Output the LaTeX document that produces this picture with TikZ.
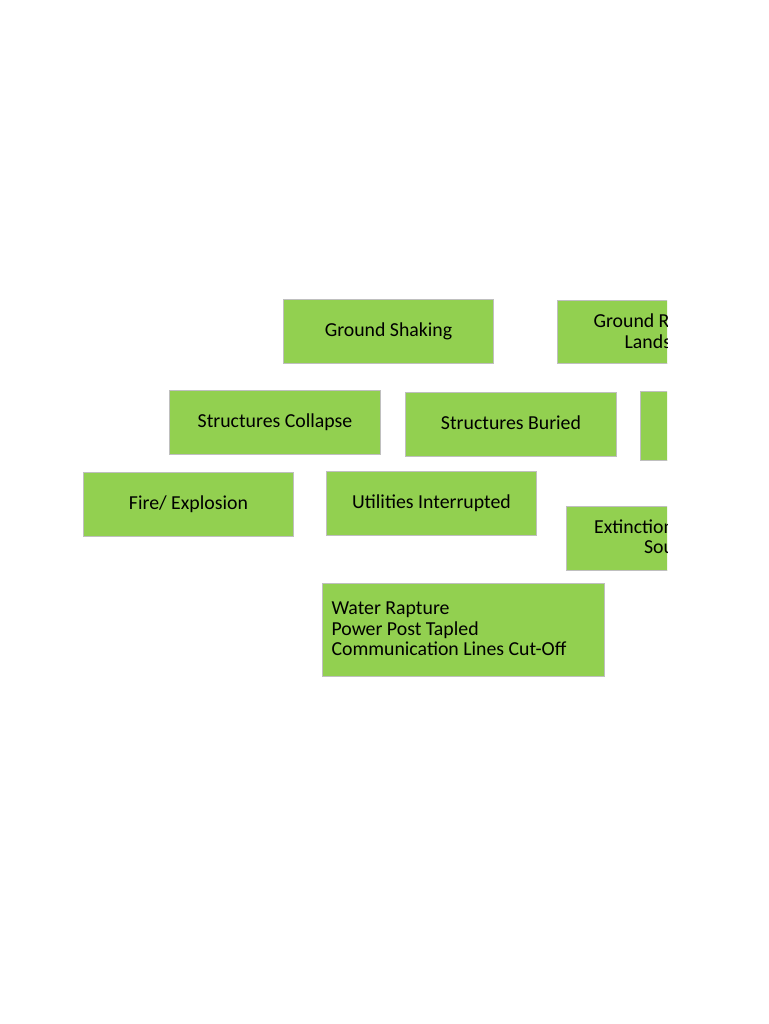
\documentclass[tikz,border=0pt]{standalone}
\usepackage{fontspec}
\setmainfont{Carlito}
\definecolor{boxgreen}{HTML}{92D050}
\definecolor{boxline}{HTML}{BFBFBF}
\begin{document}
\begin{tikzpicture}[x=1pt,y=-1pt,
  gbox/.style={draw=boxline, fill=boxgreen, line width=1pt, rectangle, inner sep=0pt, anchor=north west},
  txt/.style={font=\fontsize{19.8}{20.5}\selectfont, text=black, align=center}]
\useasboundingbox (0,0) rectangle (768,1024);
\begin{scope}
\clip (0,0) rectangle (667,1024);
\node[gbox, minimum width=210pt, minimum height=64pt] (gs) at (283,299) {};
\node[txt] (gst) at (gs.center) {Ground Shaking};
\node[gbox, minimum width=210pt, minimum height=63pt] (gr) at (557,300) {};
\node[txt] (grt) at ([yshift=1pt]gr.center) {Ground Rupture/\\Landslide};
\node[gbox, minimum width=211pt, minimum height=64pt] (sc) at (169,390) {};
\node[txt] (sct) at (sc.center) {Structures Collapse};
\node[gbox, minimum width=211pt, minimum height=64pt] (sb) at (405,392) {};
\node[txt] (sbt) at ([yshift=1.5pt]sb.center) {Structures Buried};
\node[gbox, minimum width=210pt, minimum height=69pt] (hid) at (640,391) {};
\node[gbox, minimum width=210pt, minimum height=64pt] (fe) at (83,472) {};
\node[txt] (fet) at (fe.center) {Fire/ Explosion};
\node[gbox, minimum width=210pt, minimum height=64pt] (ui) at (326,471) {};
\node[txt] (uit) at (ui.center) {Utilities Interrupted};
\node[gbox, minimum width=210pt, minimum height=64pt] (ex) at (566,506) {};
\node[txt] (ext) at ([yshift=2pt]ex.center) {Extinction of Water\\Source};
\node[gbox, minimum width=282pt, minimum height=93pt] (wr) at (322,583) {};
\node[txt, align=left, anchor=west] (wrt) at ([xshift=6pt,yshift=1pt]wr.west) {Water Rapture\\Power Post Tapled\\Communication Lines Cut-Off};
\end{scope}
\end{tikzpicture}
\end{document}
